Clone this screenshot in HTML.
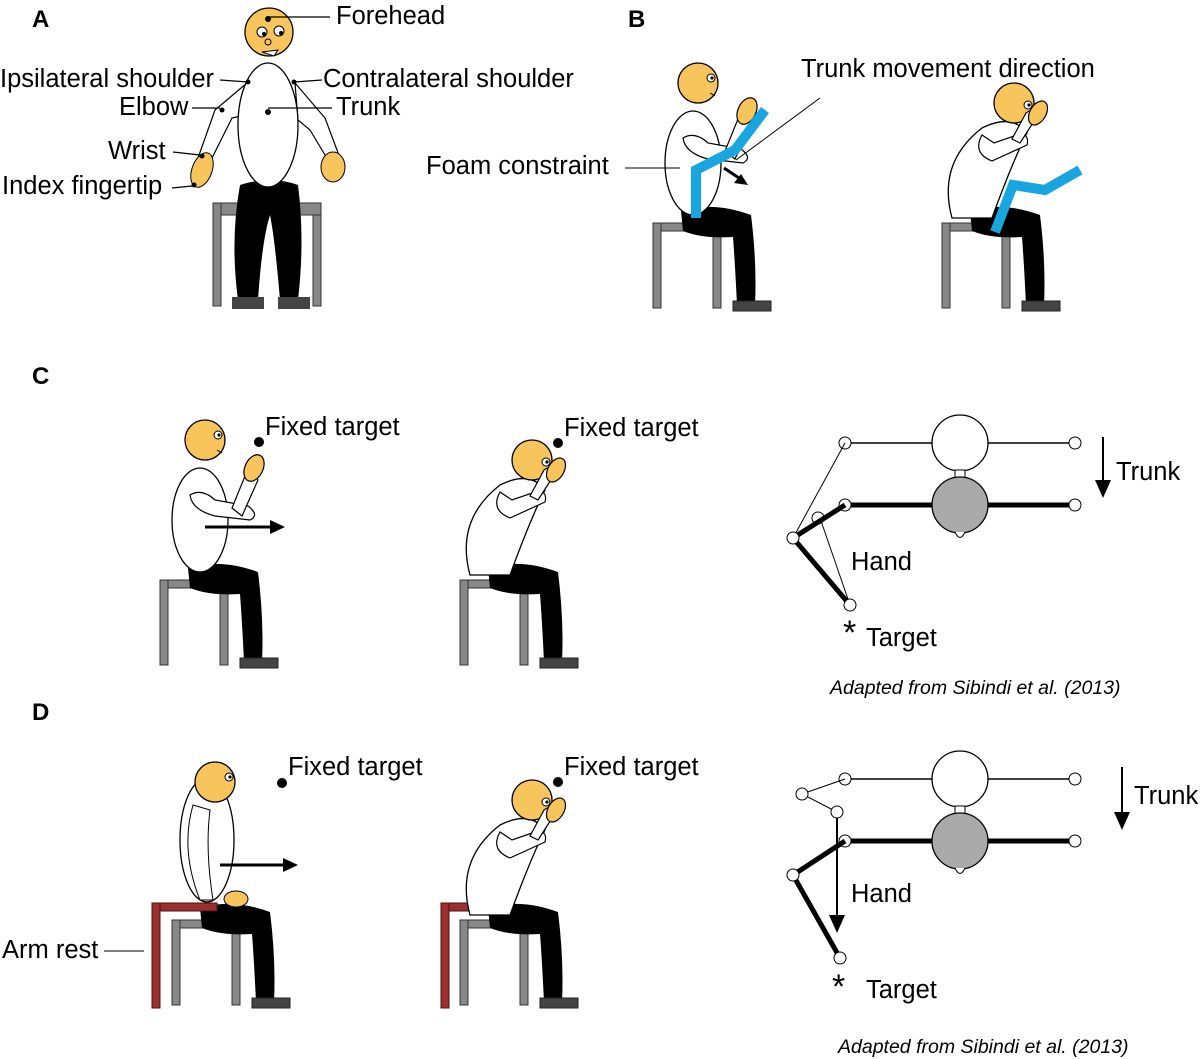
<!DOCTYPE html>
<html><head><meta charset="utf-8"><style>
body{margin:0;background:#fff}
svg{display:block}
text{font-family:"Liberation Sans",Arial,sans-serif;fill:#000}
</style></head><body>
<svg width="1200" height="1059" viewBox="0 0 1200 1059" xmlns="http://www.w3.org/2000/svg">
<defs>
<g id="chair">
 <rect x="0" y="0" width="70" height="8" fill="#888" stroke="#333"/>
 <rect x="0" y="0" width="8" height="85" fill="#888" stroke="#333"/>
 <rect x="60" y="8" width="8" height="77" fill="#888" stroke="#333"/>
</g>
<g id="lower">
 <path d="M28,-12 Q60,-22 98,-8 Q104,40 102,82 L84,82 Q82,40 80,14 Q50,16 30,8 Z" fill="#000"/>
 <rect x="80" y="78" width="38" height="10" fill="#444" stroke="#222"/>
</g>
<g id="upright">
 <ellipse cx="40" cy="-60" rx="28" ry="52" fill="#fff" stroke="#000" stroke-width="1.3"/>
 <circle cx="45" cy="-140" r="20" fill="#f8c45c" stroke="#000" stroke-width="1.3"/>
 <circle cx="58" cy="-145" r="4" fill="#fff" stroke="#000"/><circle cx="59" cy="-145" r="1.6"/>
 <path d="M57,-130 L62,-127" stroke="#000"/>
 <path d="M30,-85 Q32,-70 55,-64 L90,-60 Q100,-65 88,-74 L55,-80 Q42,-92 30,-85 Z" fill="#fff" stroke="#000" stroke-width="1.2"/>
 <path d="M82,-64 L98,-100 Q95,-110 85,-104 L72,-72 Z" fill="#fff" stroke="#000" stroke-width="1.2"/>
 <ellipse cx="94" cy="-112" rx="9" ry="14" transform="rotate(25 94 -112)" fill="#f8c45c" stroke="#000" stroke-width="1.2"/>
</g>
<g id="lean">
 <path d="M10,-5 Q-5,-60 40,-95 Q70,-110 85,-90 Q70,-60 50,-5 Z" fill="#fff" stroke="#000" stroke-width="1.3"/>
 <circle cx="72" cy="-120" r="20" fill="#f8c45c" stroke="#000" stroke-width="1.3"/>
 <circle cx="86" cy="-118" r="4" fill="#fff" stroke="#000"/><circle cx="87" cy="-118" r="1.6"/>
 <path d="M40,-88 Q30,-70 50,-62 L85,-78 Q88,-90 75,-88 L52,-80 Z" fill="#fff" stroke="#000" stroke-width="1.2"/>
 <path d="M78,-80 L96,-108 Q92,-116 84,-110 L70,-84 Z" fill="#fff" stroke="#000" stroke-width="1.2"/>
 <ellipse cx="96" cy="-110" rx="8" ry="13" transform="rotate(30 96 -110)" fill="#f8c45c" stroke="#000" stroke-width="1.2"/>
</g>
<g id="stick">
 <line x1="0" y1="0" x2="230" y2="0" stroke="#000" stroke-width="1.5"/>
 <circle cx="115" cy="0" r="28" fill="#fff" stroke="#000" stroke-width="1.3"/>
 <rect x="110" y="27" width="10" height="8" fill="#fff" stroke="#000"/>
 <line x1="0" y1="62" x2="230" y2="62" stroke="#000" stroke-width="5"/>
 <circle cx="115" cy="62" r="28" fill="#aaa" stroke="#000" stroke-width="1.3"/>
 <path d="M110,89 Q115,100 120,89" fill="#fff" stroke="#000"/>
 <circle cx="0" cy="0" r="6" fill="#fff" stroke="#000"/><circle cx="230" cy="0" r="6" fill="#fff" stroke="#000"/>
 <circle cx="0" cy="62" r="6" fill="#fff" stroke="#000"/><circle cx="230" cy="62" r="6" fill="#fff" stroke="#000"/>
</g>
</defs>

<!-- Panel A -->
<text x="32" y="27" font-size="24" font-weight="bold">A</text>
<rect x="313" y="203" width="8" height="103" fill="#888" stroke="#333"/>
<rect x="213" y="203" width="108" height="12" fill="#888" stroke="#333"/>
<rect x="213" y="203" width="8" height="103" fill="#888" stroke="#333"/>
<path d="M240,185 Q270,175 298,185 Q305,240 298,300 L280,300 Q275,240 270,215 Q262,240 258,300 L238,300 Q230,240 240,185 Z" fill="#000"/>
<rect x="232" y="297" width="32" height="12" fill="#444"/><rect x="278" y="297" width="32" height="12" fill="#444"/>
<path d="M247,83 L215,110 L198,158 L210,162 L232,118 L245,115 Z" fill="#fff" stroke="#000" stroke-width="1.2"/>
<path d="M295,83 L325,118 L340,158 L328,160 L310,130 L298,120 Z" fill="#fff" stroke="#000" stroke-width="1.2"/>
<ellipse cx="268" cy="125" rx="30" ry="62" fill="#fff" stroke="#000" stroke-width="1.3"/>
<ellipse cx="202" cy="170" rx="10" ry="18" transform="rotate(20 202 170)" fill="#f8c45c" stroke="#000"/>
<ellipse cx="333" cy="167" rx="12" ry="15" fill="#f8c45c" stroke="#000"/>
<circle cx="269" cy="32" r="24" fill="#f8c45c" stroke="#000" stroke-width="1.3"/>
<circle cx="262" cy="32" r="5" fill="#fff" stroke="#000"/><circle cx="279" cy="31" r="5" fill="#fff" stroke="#000"/>
<circle cx="264" cy="34" r="2"/><circle cx="281" cy="33" r="2"/>
<circle cx="268" cy="42" r="3" fill="#f8c45c" stroke="#000"/>
<path d="M262,52 L278,50 L274,56 Z" fill="#fff" stroke="#000"/>
<g fill="#000"><circle cx="268" cy="19" r="3"/><circle cx="248" cy="82" r="2.5"/><circle cx="294" cy="82" r="2.5"/><circle cx="268" cy="112" r="3"/><circle cx="222" cy="110" r="2.5"/><circle cx="202" cy="156" r="2.5"/><circle cx="194" cy="185" r="2.5"/></g>
<g stroke="#000" stroke-width="1.2">
<line x1="268" y1="17" x2="330" y2="17"/><line x1="220" y1="80" x2="248" y2="82"/><line x1="294" y1="82" x2="322" y2="80"/>
<line x1="268" y1="108" x2="332" y2="108"/><line x1="192" y1="108" x2="220" y2="108"/><line x1="173" y1="152" x2="200" y2="155"/><line x1="172" y1="188" x2="192" y2="186"/>
</g>
<g font-size="25.5">
<text x="336" y="24">Forehead</text>
<text x="0" y="87">Ipsilateral shoulder</text>
<text x="323" y="87">Contralateral shoulder</text>
<text x="119" y="115">Elbow</text>
<text x="336" y="115">Trunk</text>
<text x="108" y="159">Wrist</text>
<text x="2" y="194">Index fingertip</text>
</g>

<!-- Panel B -->
<text x="628" y="27" font-size="24" font-weight="bold">B</text>
<use href="#chair" x="653" y="223"/><use href="#lower" x="653" y="223"/><use href="#upright" x="653" y="223"/>
<path d="M696,218 L696,170 L735,150 L765,110" stroke="#19a6e0" stroke-width="10" fill="none"/>
<use href="#chair" x="942" y="223"/><use href="#lower" x="942" y="223"/><use href="#lean" x="942" y="223"/>
<path d="M995,232 L1013,185 L1045,190 L1080,170" stroke="#19a6e0" stroke-width="10" fill="none"/>
<line x1="736" y1="160" x2="820" y2="98" stroke="#000"/>
<line x1="625" y1="168" x2="680" y2="168" stroke="#000"/>
<line x1="724" y1="168" x2="742" y2="180" stroke="#000" stroke-width="3"/>
<path d="M748,185 L734,183 L741,174 Z"/>
<g font-size="25.5"><text x="801" y="77">Trunk movement direction</text><text x="426" y="174">Foam constraint</text></g>

<!-- Panel C -->
<text x="32" y="384" font-size="24" font-weight="bold">C</text>
<use href="#chair" x="160" y="580"/><use href="#lower" x="160" y="580"/><use href="#upright" x="160" y="580"/>
<line x1="205" y1="527" x2="273" y2="527" stroke="#000" stroke-width="3"/><path d="M285,527 L270,520 L270,534 Z"/>
<circle cx="259" cy="442" r="5"/>
<use href="#chair" x="460" y="580"/><use href="#lower" x="460" y="580"/><use href="#lean" x="460" y="580"/>
<circle cx="558" cy="443" r="5"/>
<g font-size="25.5"><text x="265" y="435">Fixed target</text><text x="564" y="436">Fixed target</text></g>
<use href="#stick" x="845" y="443"/>
<line x1="845" y1="443" x2="793" y2="538" stroke="#000"/><line x1="820" y1="518" x2="850" y2="605" stroke="#000"/>
<path d="M845,505 L793,538 L850,605" stroke="#000" stroke-width="5" fill="none"/>
<circle cx="793" cy="538" r="6" fill="#fff" stroke="#000"/><circle cx="850" cy="605" r="6" fill="#fff" stroke="#000"/><circle cx="818" cy="518" r="6" fill="none" stroke="#000"/>
<line x1="1103" y1="437" x2="1103" y2="480" stroke="#000" stroke-width="2"/><path d="M1095,480 L1111,480 L1103,498 Z"/>
<g font-size="25.5"><text x="1116" y="480">Trunk</text><text x="851" y="570">Hand</text><text x="866" y="646">Target</text><text x="843" y="644" font-size="34">*</text></g>
<text x="830" y="694" font-size="19.5" font-style="italic">Adapted from Sibindi et al. (2013)</text>

<!-- Panel D -->
<text x="32" y="720" font-size="24" font-weight="bold">D</text>
<use href="#chair" x="172" y="920"/><use href="#lower" x="172" y="920"/>
<rect x="152" y="903" width="65" height="8" fill="#9b2f2f" stroke="#4a1010"/><rect x="152" y="903" width="8" height="105" fill="#9b2f2f" stroke="#4a1010"/>
<ellipse cx="207" cy="840" rx="27" ry="62" fill="#fff" stroke="#000" stroke-width="1.3"/>
<path d="M193,805 Q180,850 200,900 L213,900 Q205,850 210,810 Z" fill="#fff" stroke="#000"/>
<ellipse cx="236" cy="899" rx="12" ry="8" fill="#f8c45c" stroke="#000"/>
<circle cx="215" cy="782" r="20" fill="#f8c45c" stroke="#000" stroke-width="1.3"/>
<circle cx="229" cy="777" r="4" fill="#fff" stroke="#000"/><circle cx="230" cy="777" r="1.6"/>
<line x1="220" y1="865" x2="285" y2="865" stroke="#000" stroke-width="3"/><path d="M298,865 L283,858 L283,872 Z"/>
<circle cx="282" cy="783" r="5"/>
<line x1="104" y1="951" x2="144" y2="951" stroke="#000"/>
<use href="#chair" x="460" y="920"/><use href="#lower" x="460" y="920"/>
<rect x="441" y="903" width="65" height="8" fill="#9b2f2f" stroke="#4a1010"/><rect x="441" y="903" width="8" height="105" fill="#9b2f2f" stroke="#4a1010"/>
<use href="#lean" x="460" y="920"/>
<circle cx="558" cy="782" r="5"/>
<g font-size="25.5"><text x="288" y="775">Fixed target</text><text x="564" y="775">Fixed target</text><text x="2" y="958">Arm rest</text></g>
<use href="#stick" x="845" y="779"/>
<path d="M845,779 L802,794 L837,812" stroke="#000" fill="none"/>
<circle cx="802" cy="794" r="6" fill="#fff" stroke="#000"/><circle cx="837" cy="812" r="6" fill="#fff" stroke="#000"/>
<path d="M845,841 L793,875 L840,958" stroke="#000" stroke-width="5" fill="none"/>
<circle cx="793" cy="875" r="6" fill="#fff" stroke="#000"/><circle cx="840" cy="958" r="6" fill="#fff" stroke="#000"/>
<line x1="837" y1="818" x2="837" y2="915" stroke="#000" stroke-width="2"/><path d="M829,915 L845,915 L837,933 Z"/>
<line x1="1122" y1="767" x2="1122" y2="812" stroke="#000" stroke-width="2"/><path d="M1114,812 L1130,812 L1122,830 Z"/>
<g font-size="25.5"><text x="1134" y="804">Trunk</text><text x="851" y="902">Hand</text><text x="866" y="998">Target</text><text x="832" y="998" font-size="34">*</text></g>
<text x="838" y="1053" font-size="19.5" font-style="italic">Adapted from Sibindi et al. (2013)</text>
</svg>
</body></html>
